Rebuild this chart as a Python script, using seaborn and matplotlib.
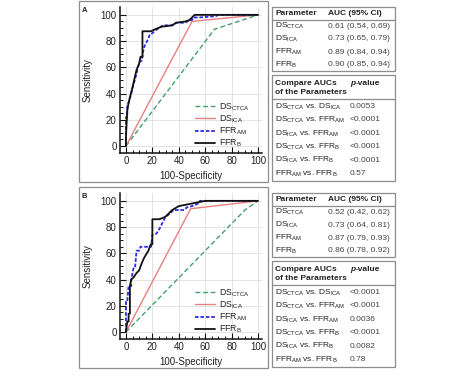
import numpy as np
import pandas as pd
import seaborn as sns
import matplotlib.pyplot as plt
from matplotlib.patches import Rectangle
from matplotlib.lines import Line2D

sns.set_style('whitegrid')
plt.rcParams['font.family'] = ['Liberation Sans', 'DejaVu Sans']
plt.rcParams['mathtext.fontset'] = 'custom'
plt.rcParams['mathtext.rm'] = 'Liberation Sans'

# ---- ROC curves (100-specificity, sensitivity) ----
a_ctca_x = [0, 67, 100]
a_ctca_y = [0, 89, 100]
a_ica_x = [0, 50, 100]
a_ica_y = [0, 95, 100]
a_am_x = [0, 0, 1, 1, 2, 4, 6, 8, 9, 11, 12, 13, 14, 15, 17, 18, 20, 22, 25, 28, 35, 38, 45, 48, 50, 51, 55, 68, 70, 100]
a_am_y = [0, 22, 22, 30, 33, 40, 48, 55, 60, 65, 65, 72, 76, 78, 82, 85, 86, 88, 90, 92, 92, 94, 94, 96, 96, 98, 98, 99, 100, 100]
a_b_x = [0, 0, 1, 2, 5, 8, 10, 11, 12.5, 12.5, 19, 22, 27, 35, 38, 45, 48, 50, 52, 100]
a_b_y = [0, 7, 27, 33, 45, 58, 63, 68, 68, 87.5, 87.5, 89, 91, 92, 94, 95, 96, 98, 100, 100]

b_ctca_x = [0, 90, 100]
b_ctca_y = [0, 93, 100]
b_ica_x = [0, 49, 100]
b_ica_y = [0, 94, 100]
b_am_x = [0, 0, 1, 2, 4, 4, 6, 7, 8, 10, 11, 19, 20, 23, 25, 27, 29, 30, 33, 36, 44, 46, 50, 55, 56, 100]
b_am_y = [0, 23, 23, 35, 35, 40, 50, 50, 62, 62, 65, 65, 74, 75, 78, 82, 86, 88, 90, 93, 93, 95, 96, 98, 100, 100]
b_b_x = [0, 1, 2, 2, 3, 3, 4, 6, 8, 10, 11, 13, 14, 17, 18, 19, 20, 20, 25, 28, 30, 32, 35, 40, 45, 50, 55, 60, 100]
b_b_y = [0, 8, 8, 14, 14, 35, 40, 42, 45, 47, 50, 55, 57, 62, 65, 67, 67, 86, 86, 87, 88, 90, 93, 96, 97, 98, 99, 100, 100]

# ---- tables ----
param_labels = [r'DS$_\mathregular{CTCA}$', r'DS$_\mathregular{ICA}$',
                r'FFR$_\mathregular{AM}$', r'FFR$_\mathregular{B}$']
auc_a = ['0.61 (0.54, 0.69)', '0.73 (0.65, 0.79)', '0.89 (0.84, 0.94)', '0.90 (0.85, 0.94)']
auc_b = ['0.52 (0.42, 0.62)', '0.73 (0.64, 0.81)', '0.87 (0.79, 0.93)', '0.86 (0.78, 0.92)']
compare_labels = [r'DS$_\mathregular{CTCA}$ vs. DS$_\mathregular{ICA}$',
                  r'DS$_\mathregular{CTCA}$ vs. FFR$_\mathregular{AM}$',
                  r'DS$_\mathregular{ICA}$ vs. FFR$_\mathregular{AM}$',
                  r'DS$_\mathregular{CTCA}$ vs. FFR$_\mathregular{B}$',
                  r'DS$_\mathregular{ICA}$ vs. FFR$_\mathregular{B}$',
                  r'FFR$_\mathregular{AM}$ vs. FFR$_\mathregular{B}$']
p_a = ['0.0053', '<0.0001', '<0.0001', '<0.0001', '<0.0001', '0.57']
p_b = ['<0.0001', '<0.0001', '0.0036', '<0.0001', '0.0082', '0.78']

W, H = 474, 376
fig = plt.figure(figsize=(W / 100, H / 100), dpi=100)


def fx(px):
    return px / W


def fy(py):
    return 1 - py / H


txt_col = '#222222'
box_col = '#8c8c8c'
tfs = 6.0


def panel(dy, letter, curves, aucs, pvals):
    # outer frame of the plot
    fig.patches.append(Rectangle((fx(79), fy(182 + dy)), fx(268) - fx(79), fy(1 + dy) - fy(182 + dy),
                                 transform=fig.transFigure, fill=False, ec=box_col, lw=0.9))
    fig.text(fx(82), fy(11 + dy), letter, fontsize=5.5, fontweight='bold', va='center', color=txt_col)

    ax = fig.add_axes([fx(120), fy(153 + dy), fx(262) - fx(120), fy(7 + dy) - fy(153 + dy)])
    styles = [('DS$_\\mathregular{CTCA}$', '#45a06a', (0, (3.5, 2)), 1.0),
              ('DS$_\\mathregular{ICA}$', '#e98080', '-', 1.0),
              ('FFR$_\\mathregular{AM}$', '#2b2be0', (0, (2, 1)), 1.3),
              ('FFR$_\\mathregular{B}$', '#111111', '-', 1.3)]
    for (x, y), (lab, col, ls, lw) in zip(curves, styles):
        sns.lineplot(x=x, y=y, estimator=None, sort=False, ax=ax, color=col,
                     linestyle=ls, linewidth=lw, label=lab)
    ax.set_xlim(-4.5, 103)
    ax.set_ylim(-5.3, 106)
    ax.set_xticks(range(0, 101, 20))
    ax.set_yticks(range(0, 101, 20))
    ax.set_xticks(range(0, 101, 5), minor=True)
    ax.set_yticks(range(0, 101, 5), minor=True)
    ax.grid(True, which='major', color='#e3e3e3', lw=0.7)
    ax.grid(False, which='minor')
    for s in ['top', 'right']:
        ax.spines[s].set_visible(False)
    for s in ['left', 'bottom']:
        ax.spines[s].set_color('#111111')
        ax.spines[s].set_linewidth(1.1)
    ax.tick_params(which='major', direction='in', length=4, width=0.8, color='#111111',
                   labelsize=7, pad=2.5, left=True, bottom=True, labelcolor=txt_col)
    ax.tick_params(which='minor', direction='in', length=2, width=0.7, color='#111111',
                   left=True, bottom=True)
    ax.set_xlabel('100-Specificity', fontsize=7, color=txt_col, labelpad=3)
    ax.set_ylabel('Sensitivity', fontsize=7, color=txt_col, labelpad=6)
    ax.legend(loc='upper left', bbox_to_anchor=(0.5, 0.385), frameon=False, fontsize=6.3,
              handlelength=2.2, handletextpad=0.5, labelspacing=0.08, borderpad=0,
              labelcolor=txt_col)

    # table 1
    fig.patches.append(Rectangle((fx(272), fy(71 + dy)), fx(395) - fx(272), fy(7 + dy) - fy(71 + dy),
                                 transform=fig.transFigure, fill=False, ec=box_col, lw=0.9))
    fig.lines.append(Line2D([fx(272), fx(395)], [fy(19.5 + dy)] * 2, transform=fig.transFigure,
                            color=box_col, lw=0.9))
    fig.text(fx(275), fy(13.5 + dy), 'Parameter', fontsize=tfs, fontweight='bold', va='center', color=txt_col)
    fig.text(fx(328), fy(13.5 + dy), 'AUC (95% CI)', fontsize=tfs, fontweight='bold', va='center', color=txt_col)
    for i, (lab, v) in enumerate(zip(param_labels, aucs)):
        yy = fy(26 + 13 * i + dy)
        fig.text(fx(275), yy, lab, fontsize=tfs, va='center', color=txt_col)
        fig.text(fx(328), yy, v, fontsize=tfs, va='center', color='#444444')

    # table 2
    fig.patches.append(Rectangle((fx(272), fy(181 + dy)), fx(395) - fx(272), fy(75 + dy) - fy(181 + dy),
                                 transform=fig.transFigure, fill=False, ec=box_col, lw=0.9))
    fig.lines.append(Line2D([fx(272), fx(395)], [fy(99 + dy)] * 2, transform=fig.transFigure,
                            color=box_col, lw=0.9))
    fig.text(fx(275), fy(83.5 + dy), 'Compare AUCs', fontsize=tfs, fontweight='bold', va='center', color=txt_col)
    fig.text(fx(275), fy(92 + dy), 'of the Parameters', fontsize=tfs, fontweight='bold', va='center', color=txt_col)
    fig.text(fx(350), fy(83.5 + dy), 'p', fontsize=tfs, fontweight='bold', fontstyle='italic', va='center', color=txt_col)
    fig.text(fx(355.5), fy(83.5 + dy), '-value', fontsize=tfs, fontweight='bold', va='center', color=txt_col)
    for i, (lab, v) in enumerate(zip(compare_labels, pvals)):
        yy = fy(106.5 + 13.4 * i + dy)
        fig.text(fx(275), yy, lab, fontsize=tfs, va='center', color=txt_col)
        fig.text(fx(350), yy, v, fontsize=tfs, va='center', color='#444444')


panel(0, 'A', [(a_ctca_x, a_ctca_y), (a_ica_x, a_ica_y), (a_am_x, a_am_y), (a_b_x, a_b_y)], auc_a, p_a)
panel(186, 'B', [(b_ctca_x, b_ctca_y), (b_ica_x, b_ica_y), (b_am_x, b_am_y), (b_b_x, b_b_y)], auc_b, p_b)

fig.savefig('out.png', dpi=100, facecolor='white')
